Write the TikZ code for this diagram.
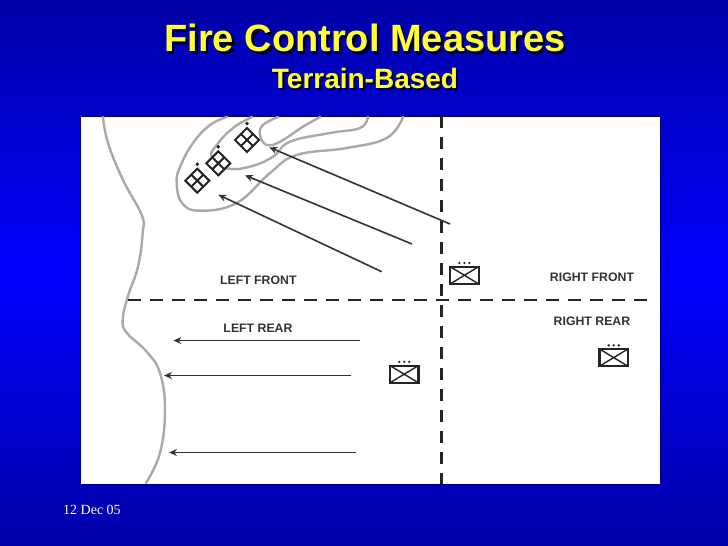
\documentclass[tikz,border=0pt]{standalone}
\usepackage{fontspec}
\setmainfont{Liberation Sans}
\newfontfamily\datefont{Liberation Serif}
\usetikzlibrary{arrows.meta}
\definecolor{bgdark}{HTML}{0000A6}
\definecolor{bgmid}{HTML}{0000FF}
\definecolor{ttl}{HTML}{FFFF33}
\definecolor{ink}{HTML}{333333}
\definecolor{contour}{HTML}{A9A9A9}
\tikzset{
  x=1pt,y=-1pt,
  terrain/.style={draw=contour,line width=2.4pt,line cap=round,line join=round},
  phase/.style={draw=ink!70!black,line width=3pt},
  fireline/.style={draw=ink,line width=1.6pt,-{Stealth[length=8pt,width=7pt]}},
  zonelabel/.style={font=\bfseries\fontsize{12.3}{13}\selectfont,text=ink,inner sep=0pt},
  unitbox/.style={draw=ink!70!black,line width=2.2pt,fill=white},
  tgtline/.style={draw=ink!70!black,line width=2pt},
  blip/.style={fill=ink!70!black,draw=none},
  ttlA/.style={font=\bfseries\fontsize{38}{40}\selectfont,inner sep=0pt},
  ttlB/.style={font=\bfseries\fontsize{28}{30}\selectfont,inner sep=0pt}
}
\newcommand{\unitsym}[3]{% name, cx, cy
  \draw[unitbox] (#2-14.2,#3-8.6) rectangle (#2+14.2,#3+8.6);
  \draw[tgtline,line width=1.4pt] (#2-14.2,#3-8.6) -- (#2+14.2,#3+8.6) (#2-14.2,#3+8.6) -- (#2+14.2,#3-8.6);
  \foreach \d in {-5,0,5} \fill[blip] (#2+\d,#3-12.3) circle (1.3pt);
}
\newcommand{\tgtsym}[3]{% name, cx, cy
  \draw[tgtline,fill=white] (#2-12,#3) -- (#2,#3-12) -- (#2+12,#3) -- (#2,#3+12) -- cycle;
  \draw[tgtline] (#2-6,#3-6) -- (#2+6,#3+6) (#2-6,#3+6) -- (#2+6,#3-6);
  \fill[blip] (#2,#3-16.5) circle (1.9pt);
}
\begin{document}
\begin{tikzpicture}
\useasboundingbox (0,0) rectangle (728,546);
\shade[top color=bgdark,bottom color=bgdark,middle color=bgmid] (0,0) rectangle (728,546);
% panel
\fill[black!50!blue] (80,116) rectangle (661,485);
\fill[white] (80.5,116.5) rectangle (660,484);
% shoreline
\draw[terrain] plot[smooth,tension=0.7] coordinates {(103,117) (108,143) (123,180) (141.7,215) (142.7,233) (138,266.7) (128,296) (122.7,320) (127,333) (146.7,351.7) (160,373) (165,410) (160,453) (146,483)};
% contours
\draw[terrain] plot[smooth,tension=0.7] coordinates {(227,117) (210,125) (193,143) (180,167) (176.7,183) (182,203) (200,210.7) (236.7,203) (270,173) (296.7,155) (346.7,148) (386.7,138) (403,117)};
\draw[terrain] plot[smooth,tension=0.7] coordinates {(252,117) (233,128) (216.7,145) (211.7,156.7) (226.7,168.3) (250,166.7) (273,156.7) (290,141.7) (330,133) (360,128) (368,117)};
\draw[terrain] plot[smooth,tension=0.7] coordinates {(278,117) (263,125) (260,135) (266.7,145) (280,141.7) (303,126.7) (320,117)};
% phase lines
\coordinate (hw) at (128.3,300);
\coordinate (he) at (649,300);
\coordinate (vn) at (441.3,116.3);
\coordinate (vs) at (441.3,484);
\draw[phase,line width=2.6pt,dash pattern=on 13pt off 9pt] (hw) -- (he);
\draw[phase,dash pattern=on 12pt off 9pt] (vn) -- (vs);
% targets
\tgtsym{t1}{197.3}{180.7}
\tgtsym{t2}{218.3}{163.3}
\tgtsym{t3}{247}{140}
% units
\unitsym{u1}{464.4}{275.3}
\unitsym{u2}{404.2}{374.2}
\unitsym{u3}{613.7}{357.6}
% sectors of fire
\coordinate (a1s) at (450,224);
\coordinate (a1e) at (269.3,147.3);
\coordinate (a2s) at (412,244);
\coordinate (a2e) at (245,175.3);
\coordinate (a3s) at (381.7,271.7);
\coordinate (a3e) at (218.3,194.7);
\coordinate (b1s) at (360,340.5);
\coordinate (b1e) at (173.3,340.5);
\coordinate (b2s) at (350.7,375.5);
\coordinate (b2e) at (164,375.5);
\coordinate (b3s) at (355.7,452.5);
\coordinate (b3e) at (169,452.5);
\foreach \p/\q in {a1s/a1e,a2s/a2e,a3s/a3e,b1s/b1e,b2s/b2e,b3s/b3e}
  \draw[fireline] (\p) -- (\q);
% labels
\node[zonelabel] (lf) at (258.3,280) {LEFT FRONT};
\node[zonelabel] (rf) at (592,277.5) {RIGHT FRONT};
\node[zonelabel] (rr) at (592,321.7) {RIGHT REAR};
\node[zonelabel] (lr) at (258,328.3) {LEFT REAR};
% title
\node[ttlA,text=black] (t1s) at (367.5,41) {Fire Control Measures};
\node[ttlA,text=ttl] (t1) at (365,38) {Fire Control Measures};
\node[ttlB,text=black] (t2s) at (367,80.5) {Terrain-Based};
\node[ttlB,text=ttl] (t2) at (365,78.5) {Terrain-Based};
\node[anchor=west,inner sep=0pt,text=white,font=\datefont\fontsize{14}{15}\selectfont] (dt) at (63,510) {12 Dec 05};
\end{tikzpicture}
\end{document}
